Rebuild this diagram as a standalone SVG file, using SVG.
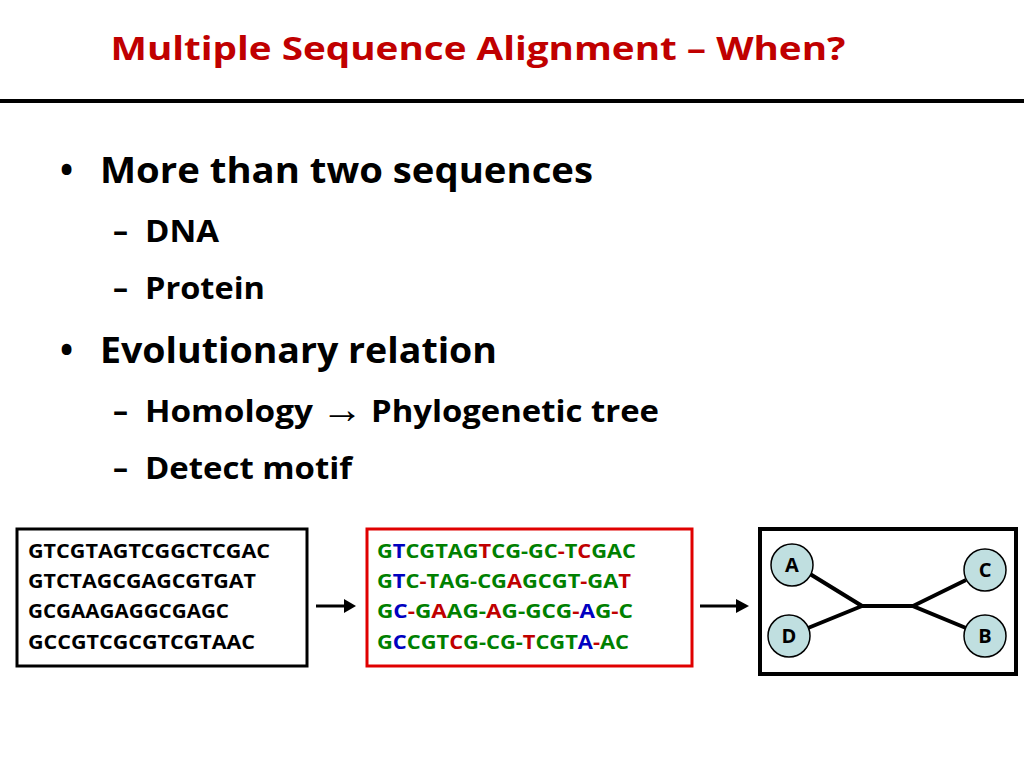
<svg xmlns="http://www.w3.org/2000/svg" width="1024" height="768" viewBox="0 0 1024 768">
<style>
text{font-family:"Open Sans","Liberation Sans",sans-serif;font-weight:bold}
.b{font-size:35px;fill:#000}
.s{font-size:30px;fill:#000}
.q{font-size:19px;fill:#000}
.g{fill:#008000}.u{fill:#0000c0}.r{fill:#c00000}
.n{fill:#c0dfe0;stroke:#000;stroke-width:1.5}
.l{font-size:20px;text-anchor:middle}
</style>
<rect width="1024" height="768" fill="#fff"/>
<text x="478" y="60" text-anchor="middle" font-size="33" fill="#c00000" textLength="735" lengthAdjust="spacingAndGlyphs">Multiple Sequence Alignment – When?</text>
<rect x="0" y="99" width="1024" height="4" fill="#000"/>
<text class="b" x="60" y="183">•</text>
<text class="b" x="100" y="183" textLength="493" lengthAdjust="spacingAndGlyphs">More than two sequences</text>
<text class="s" x="113" y="242" font-weight="normal">–</text>
<text class="s" x="145" y="242" textLength="74" lengthAdjust="spacingAndGlyphs">DNA</text>
<text class="s" x="113" y="299" font-weight="normal">–</text>
<text class="s" x="145" y="299" textLength="120" lengthAdjust="spacingAndGlyphs">Protein</text>
<text class="b" x="60" y="363">•</text>
<text class="b" x="100" y="363" textLength="397" lengthAdjust="spacingAndGlyphs">Evolutionary relation</text>
<text class="s" x="113" y="422" font-weight="normal">–</text>
<text class="s" x="145" y="422" textLength="168" lengthAdjust="spacingAndGlyphs">Homology</text>
<text x="321" y="423" font-size="40" textLength="42" lengthAdjust="spacingAndGlyphs">→</text>
<text class="s" x="371" y="422" textLength="288" lengthAdjust="spacingAndGlyphs">Phylogenetic tree</text>
<text class="s" x="113" y="479" font-weight="normal">–</text>
<text class="s" x="145" y="479" textLength="207" lengthAdjust="spacingAndGlyphs">Detect motif</text>
<g id="raw">
<rect x="17" y="529" width="290" height="137" fill="none" stroke="#000" stroke-width="3"/>
<text class="q" x="28" y="558" textLength="242" lengthAdjust="spacingAndGlyphs">GTCGTAGTCGGCTCGAC</text>
<text class="q" x="28" y="588" textLength="228" lengthAdjust="spacingAndGlyphs">GTCTAGCGAGCGTGAT</text>
<text class="q" x="28" y="618" textLength="201" lengthAdjust="spacingAndGlyphs">GCGAAGAGGCGAGC</text>
<text class="q" x="28" y="649" textLength="227" lengthAdjust="spacingAndGlyphs">GCCGTCGCGTCGTAAC</text>
</g>
<g id="connectors" stroke="#000" stroke-width="3" fill="#000">
<line x1="316" y1="606" x2="346" y2="606"/><polygon points="344,599 356,606 344,613" stroke="none"/>
<line x1="700" y1="606" x2="738" y2="606"/><polygon points="736,599 749,606 736,613" stroke="none"/>
<polyline points="810,574 862,606 808,628" fill="none" stroke-width="4"/>
<line x1="862" y1="606" x2="913" y2="606" stroke-width="4"/>
<polyline points="966,580 913,606 966,628" fill="none" stroke-width="4"/>
</g>
<g id="aligned">
<rect x="367" y="529" width="325" height="137" fill="none" stroke="#e00000" stroke-width="3"/>
<text class="q" x="377" y="558" textLength="259" lengthAdjust="spacingAndGlyphs"><tspan class="g">G</tspan><tspan class="u">T</tspan><tspan class="g">CGTAG</tspan><tspan class="r">T</tspan><tspan class="g">CG-GC</tspan><tspan class="r">-</tspan><tspan class="g">T</tspan><tspan class="r">C</tspan><tspan class="g">GAC</tspan></text>
<text class="q" x="377" y="588" textLength="254" lengthAdjust="spacingAndGlyphs"><tspan class="g">G</tspan><tspan class="u">T</tspan><tspan class="g">C</tspan><tspan class="r">-</tspan><tspan class="g">TAG-CG</tspan><tspan class="r">A</tspan><tspan class="g">GCGT</tspan><tspan class="r">-</tspan><tspan class="g">GA</tspan><tspan class="r">T</tspan></text>
<text class="q" x="377" y="618" textLength="256" lengthAdjust="spacingAndGlyphs"><tspan class="g">G</tspan><tspan class="u">C</tspan><tspan class="r">-</tspan><tspan class="g">G</tspan><tspan class="r">A</tspan><tspan class="g">AG-</tspan><tspan class="r">A</tspan><tspan class="g">G-GCG</tspan><tspan class="r">-</tspan><tspan class="u">A</tspan><tspan class="g">G</tspan><tspan class="r">-</tspan><tspan class="g">C</tspan></text>
<text class="q" x="377" y="649" textLength="252" lengthAdjust="spacingAndGlyphs"><tspan class="g">G</tspan><tspan class="u">C</tspan><tspan class="g">CGT</tspan><tspan class="r">C</tspan><tspan class="g">G-CG-</tspan><tspan class="r">T</tspan><tspan class="g">CGT</tspan><tspan class="u">A</tspan><tspan class="r">-</tspan><tspan class="g">AC</tspan></text>
</g>
<rect x="760" y="529" width="256" height="145" fill="none" stroke="#000" stroke-width="4"/>
<g id="A"><circle class="n" cx="792" cy="565" r="21"/><text class="l" x="792" y="572">A</text></g>
<g id="D"><circle class="n" cx="789" cy="636" r="21"/><text class="l" x="789" y="643">D</text></g>
<g id="C"><circle class="n" cx="985" cy="570" r="21"/><text class="l" x="985" y="577">C</text></g>
<g id="B"><circle class="n" cx="985" cy="636" r="21"/><text class="l" x="985" y="643">B</text></g>
</svg>
